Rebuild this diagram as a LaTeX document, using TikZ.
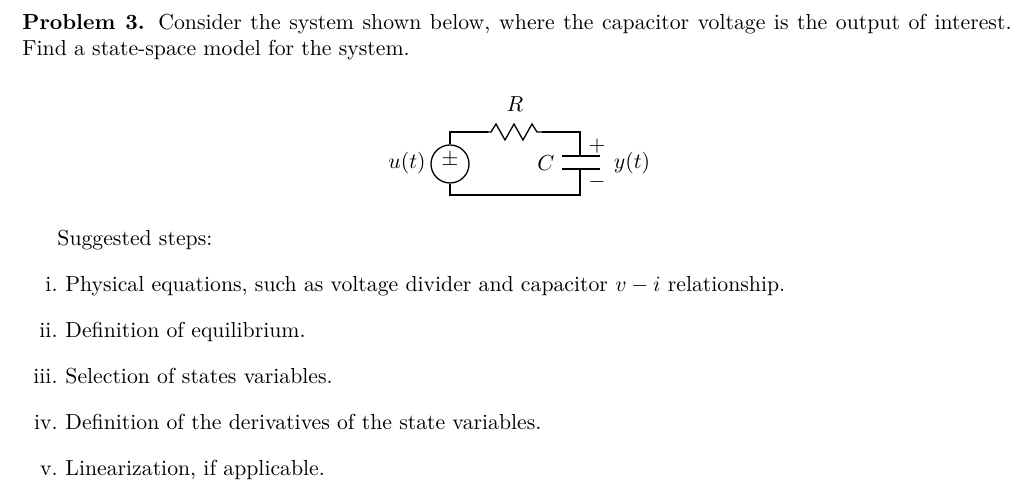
\documentclass[tikz,border=0pt]{standalone}
\usetikzlibrary{decorations.pathmorphing}
\begin{document}
\begin{tikzpicture}[x=0.46pt,y=-0.46pt,
  wire/.style={line width=0.6pt},
  txt/.style={anchor=base west,inner sep=0pt}]
\useasboundingbox (0,0) rectangle (1035,500);
% text
\node[txt,anchor=north west,text width=455pt,align=justify] (p) at (22,14)
 {\textbf{Problem 3.} Consider the system shown below, where the capacitor voltage is the output of interest. Find a state-space model for the system.};
\node[txt] (s) at (57,246) {Suggested steps:};
\node[txt,anchor=base east] (l1) at (58,292) {i.};
\node[txt] (t1) at (65,292) {Physical equations, such as voltage divider and capacitor $v-i$ relationship.};
\node[txt,anchor=base east] (l2) at (58,338) {ii.};
\node[txt] (t2) at (65,338) {Definition of equilibrium.};
\node[txt,anchor=base east] (l3) at (58,384) {iii.};
\node[txt] (t3) at (65,384) {Selection of states variables.};
\node[txt,anchor=base east] (l4) at (58,430) {iv.};
\node[txt] (t4) at (65,430) {Definition of the derivatives of the state variables.};
\node[txt,anchor=base east] (l5) at (58,476) {v.};
\node[txt] (t5) at (65,476) {Linearization, if applicable.};
% circuit
\node[circle,draw,line width=0.6pt,minimum size=38*0.46pt,inner sep=0pt] (src) at (450,164) {};
\node at (450,160) {$\pm$};
\coordinate (tl) at (450,132);
\coordinate (tr) at (580,132);
\coordinate (bl) at (450,195);
\coordinate (br) at (580,195);
\coordinate (r1) at (488,132);
\coordinate (r2) at (542,132);
\coordinate (c1) at (580,156);
\coordinate (c2) at (580,169);
\draw[wire] (src.north) -- (tl) -- (r1);
\draw[wire] (r1) -- (491,132) -- (496,124) -- (505,140) -- (514,124) -- (523,140) -- (532,124) -- (537,132) -- (r2);
\draw[wire] (r2) -- (tr) -- (c1);
\draw[wire] (c2) -- (br) -- (bl) -- (src.south);
\draw[line width=0.9pt] (562,156) -- (600,156);
\draw[line width=0.9pt] (562,169) -- (600,169);
\node (R) at (515,104) {$R$};
\node (C) at (546,163) {$C$};
\node (pl) at (597,146) {$+$};
\node (mi) at (597,182) {$-$};
\node (y) at (632,163) {$y(t)$};
\node (u) at (407,163) {$u(t)$};
\end{tikzpicture}
\end{document}
